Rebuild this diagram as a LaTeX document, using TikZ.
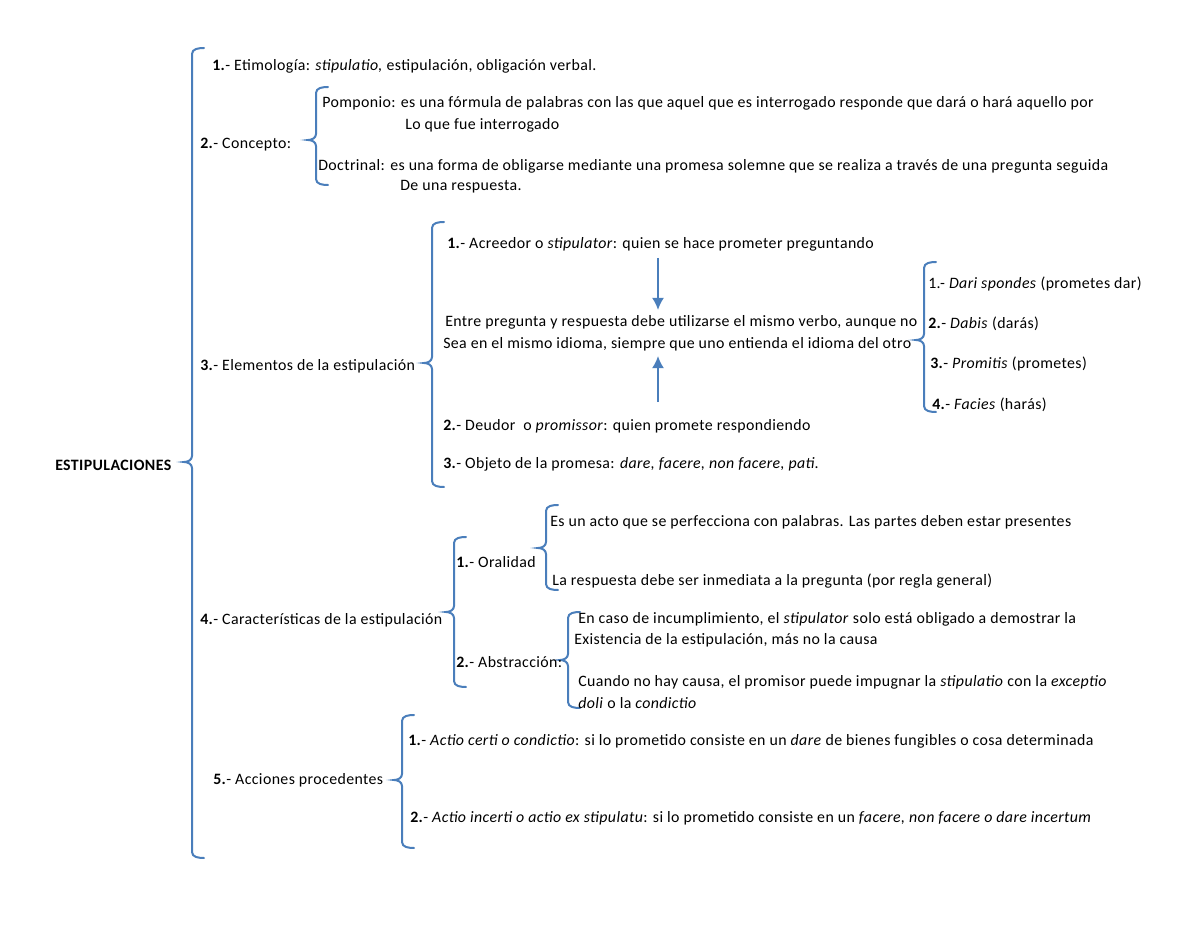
\documentclass[tikz,border=0pt]{standalone}
\usepackage{fontspec}
\setmainfont{Carlito}
\usetikzlibrary{arrows.meta}
\definecolor{bb}{HTML}{4A7EBB}
\begin{document}
\begin{tikzpicture}[x=0.75pt,y=-0.75pt,
  br/.style={draw=bb, line width=1.5pt, line cap=round},
  tx/.style={anchor=west, inner sep=0pt, font=\fontsize{11.9}{14}\selectfont\addfontfeatures{LetterSpace=2.5}},
  ar/.style={-{Latex[length=3.2mm,width=3.2mm]}, draw=bb, line width=1.5pt}]
\useasboundingbox (0,0) rectangle (1200,927);
\newcommand\wbrace[4]{\draw[br] (#1+12,#2) to[out=180,in=90] (#1,#2+6) -- (#1,#3-6) to[out=-90,in=0] (#1-8,#3) to[out=0,in=90] (#1,#3+6) -- (#1,#4-6) to[out=-90,in=180] (#1+12,#4);}
\wbrace{192}{48}{462}{858}
\wbrace{316}{87}{140}{185}
\wbrace{432}{222}{363}{487}
\wbrace{924}{262}{340}{412}
\wbrace{454}{537}{612}{687}
\wbrace{546}{505}{548}{590}
\wbrace{568}{612}{660}{708}
\wbrace{402}{715}{780}{848}
\node[tx] (root) at (55,465) {\textbf{ESTIPULACIONES}};
\node[tx] (e1) at (212,66) {\textbf{1.}- Etimología: \textit{stipulatio,} estipulación, obligación verbal.};
\node[tx] (e2) at (200,145) {\textbf{2.}- Concepto:};
\node[tx] (p1) at (322,103) {Pomponio: es una fórmula de palabras con las que aquel que es interrogado responde que dará o hará aquello por};
\node[tx] (p2) at (405,125) {Lo que fue interrogado};
\node[tx] (d1) at (318,166) {Doctrinal: es una forma de obligarse mediante una promesa solemne que se realiza a través de una pregunta seguida};
\node[tx] (d2) at (400,187) {De una respuesta.};
\node[tx] (e3) at (200,366) {\textbf{3.}- Elementos de la estipulación};
\node[tx] (a1) at (447,244) {\textbf{1.}- Acreedor o \textit{stipulator}: quien se hace prometer preguntando};
\node[tx] (m1) at (445,322) {Entre pregunta y respuesta debe utilizarse el mismo verbo, aunque no};
\node[tx] (m2) at (443,344) {Sea en el mismo idioma, siempre que uno entienda el idioma del otro};
\node[tx] (a2) at (443,426) {\textbf{2.}- Deudor\ \ o \textit{promissor}: quien promete respondiendo};
\node[tx] (a3) at (443,464) {\textbf{3.}- Objeto de la promesa: \textit{dare, facere, non facere, pati}.};
\coordinate (u1) at (658,258);
\coordinate (u2) at (658,310);
\coordinate (v1) at (658,402);
\coordinate (v2) at (658,356);
\draw[ar] (u1) -- (u2);
\draw[ar] (v1) -- (v2);
\node[tx] (r1) at (928,284) {1.- \textit{Dari spondes} (prometes dar)};
\node[tx] (r2) at (928,324) {\textbf{2.}- \textit{Dabis} (darás)};
\node[tx] (r3) at (930,364) {\textbf{3.}- \textit{Promitis} (prometes)};
\node[tx] (r4) at (932,405) {\textbf{4.}- \textit{Facies} (harás)};
\node[tx] (e4) at (200,620) {\textbf{4.}- Características de la estipulación};
\node[tx] (o) at (456,562) {\textbf{1.}- Oralidad};
\node[tx] (o1) at (550,522) {Es un acto que se perfecciona con palabras. Las partes deben estar presentes};
\node[tx] (o2) at (552,581) {La respuesta debe ser inmediata a la pregunta (por regla general)};
\node[tx] (ab) at (456,662) {\textbf{2.}- Abstracción:};
\node[tx] (b1) at (578,619) {En caso de incumplimiento, el \textit{stipulator} solo está obligado a demostrar la};
\node[tx] (b2) at (574,640) {Existencia de la estipulación, más no la causa};
\node[tx] (b3) at (578,682) {Cuando no hay causa, el promisor puede impugnar la \textit{stipulatio} con la \textit{exceptio}};
\node[tx] (b4) at (578,703) {\textit{doli} o la \textit{condictio}};
\node[tx] (e5) at (213,780) {\textbf{5.}- Acciones procedentes};
\node[tx] (c1) at (408,741) {\textbf{1.}- \textit{Actio certi o condictio}: si lo prometido consiste en un \textit{dare} de bienes fungibles o cosa determinada};
\node[tx] (c2) at (410,818) {\textbf{2.}- \textit{Actio incerti o actio ex stipulatu}: si lo prometido consiste en un \textit{facere, non facere o dare incertum}};
\end{tikzpicture}
\end{document}
